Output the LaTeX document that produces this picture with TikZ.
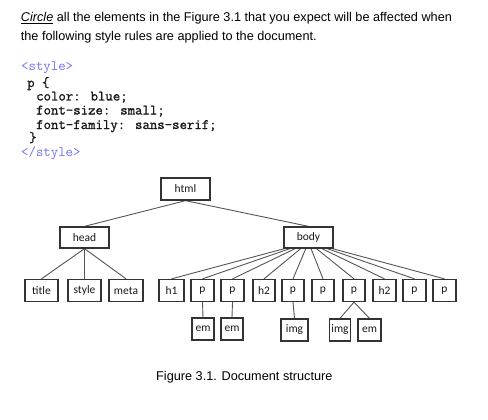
\documentclass[tikz,border=0pt]{standalone}
\usepackage{fontspec}
\setmainfont{Liberation Sans}
\newfontfamily\treefont{Carlito}
\newfontfamily\codefont[AutoFakeBold=1.3]{Latin Modern Mono}
\usetikzlibrary{backgrounds}
\definecolor{tagblue}{HTML}{7070F0}
\definecolor{boxline}{HTML}{333333}
\definecolor{edgegray}{HTML}{555555}
\tikzset{
  el/.style={draw=boxline, line width=1.3pt, fill=white, inner sep=0pt,
    minimum height=22pt, font=\treefont\fontsize{11.5}{12}\selectfont, text=black!90},
  edge/.style={draw=edgegray, line width=0.9pt},
  txt/.style={anchor=base west, inner sep=0pt, font=\fontsize{12.7}{14}\selectfont},
  code/.style={anchor=base west, inner sep=0pt, font=\codefont\fontsize{14.4}{16}\selectfont\bfseries, text=black!90},
  tag/.style={anchor=base west, inner sep=0pt, font=\codefont\fontsize{14.4}{16}\selectfont, text=tagblue}
}
\begin{document}
\begin{tikzpicture}[x=1pt, y=-1pt]
\useasboundingbox (0,0) rectangle (488,420);
% intro text
\node[txt] (l1) at (20.7,21.7) {\underline{\textit{Circle}} all the elements in the Figure 3.1 that you expect will be affected when};
\node[txt] (l2) at (20.7,40.7) {the following style rules are applied to the document.};
% code
\node[tag] (c1) at (21,71) {<style>};
\node[code] (c2) at (27,87) {p \{};
\node[code] (c3) at (36,100.5) {color: blue;};
\node[code] (c4) at (36,114.5) {font-size: small;};
\node[code] (c5) at (36,129) {font-family: sans-serif;};
\node[code] (c6) at (29,142) {\}};
\node[tag] (c7) at (21,157) {</style>};
% tree
\node[el, minimum width=49pt] (html) at (185.5,189) {html};
\node[el, minimum width=49pt, minimum height=21pt] (head) at (84.5,237.5) {head};
\node[el, minimum width=49pt, minimum height=21pt] (body) at (308.5,237.5) {body};
\node[el, minimum width=33pt] (title) at (41.5,290.5) {title};
\node[el, minimum width=33pt] (style) at (84.5,290.5) {style};
\node[el, minimum width=34pt] (meta) at (126,290.5) {meta};
\node[el, minimum width=25pt] (h1) at (171.5,290.5) {h1};
\node[el, minimum width=23pt] (p1) at (202.5,290.5) {p};
\node[el, minimum width=23pt] (p2) at (232.5,290.5) {p};
\node[el, minimum width=22pt] (h2a) at (264,290.5) {h2};
\node[el, minimum width=22pt] (p3) at (293,290.5) {p};
\node[el, minimum width=22pt] (p4) at (323,290.5) {p};
\node[el, minimum width=22pt] (p5) at (354,290.5) {p};
\node[el, minimum width=23pt] (h2b) at (384.5,290.5) {h2};
\node[el, minimum width=23pt] (p6) at (414.5,290.5) {p};
\node[el, minimum width=23pt] (p7) at (444.5,290.5) {p};
\node[el, minimum width=22pt] (em1) at (203,329) {em};
\node[el, minimum width=22pt] (em2) at (232,329) {em};
\node[el, minimum width=27pt] (img1) at (294.5,330) {img};
\node[el, minimum width=21pt] (img2) at (340,330) {img};
\node[el, minimum width=23pt] (em3) at (369.5,330) {em};
\coordinate (bc) at (308.5,242.2);
\begin{pgfonlayer}{background}
\draw[edge] (html.south) -- (head.north);
\draw[edge] (html.south) -- (body.north);
\foreach \c in {title,style,meta} \draw[edge] (head.south) -- (\c.north);
\foreach \c in {h1,p1,p2,h2a,p3,p4,p5,h2b,p6,p7} \draw[edge] (bc) -- (\c.north);
\draw[edge] (p1.south) -- (em1.north);
\draw[edge] (p2.south) -- (em2.north);
\draw[edge] (p3.south) -- (img1.north);
\draw[edge] (p5.south) -- (img2.north);
\draw[edge] (p5.south) -- (em3.north);
\end{pgfonlayer}
% caption
\node[txt] (cap) at (156,380) {Figure 3.1. Document structure};
\end{tikzpicture}
\end{document}
